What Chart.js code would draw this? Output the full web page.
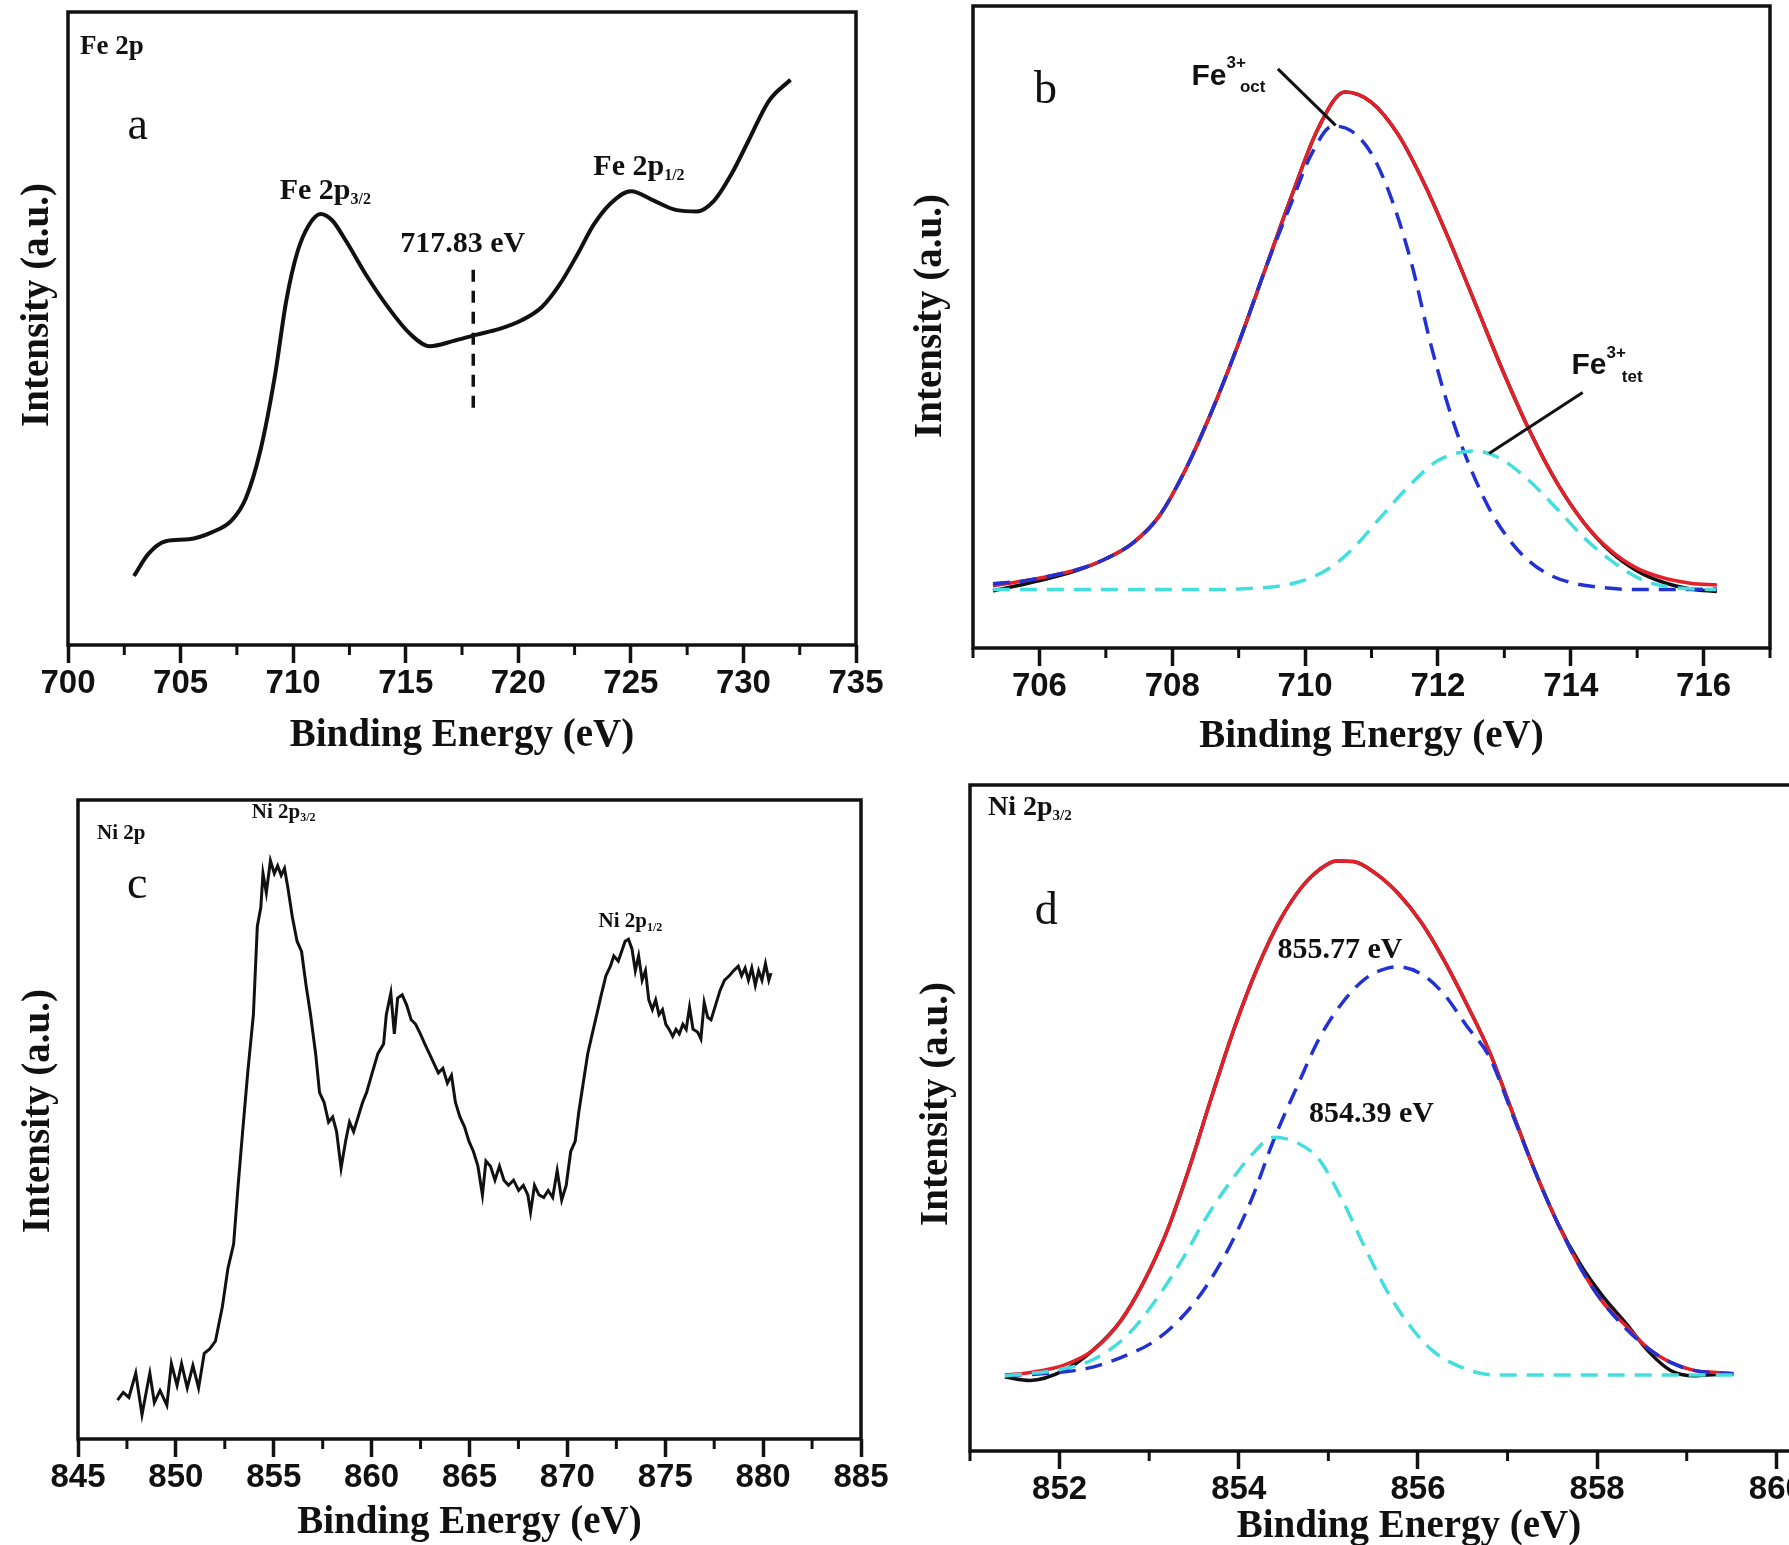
<!DOCTYPE html>
<html>
<head>
<meta charset="utf-8">
<script src="https://cdn.jsdelivr.net/npm/chart.js@4.4.1/dist/chart.umd.min.js"></script>
<style>
  html, body { margin: 0; padding: 0; background: #fff; overflow: hidden; width: 1789px; height: 1545px; }
  canvas { position: absolute; }
</style>
</head>
<body>
<canvas id="panelA" width="900" height="775" style="left:0px;top:0px"></canvas>
<canvas id="panelB" width="910" height="775" style="left:890px;top:0px"></canvas>
<canvas id="panelC" width="900" height="775" style="left:0px;top:780px"></canvas>
<canvas id="panelD" width="990" height="775" style="left:890px;top:780px"></canvas>
<script>
// ---- (a) Fe 2p survey ----
const aX = [702.93, 703.57, 704.34, 705.36, 706.38, 707.27, 707.9, 708.55, 709.18, 709.7, 710.2, 710.71, 711.22, 711.73, 712.37, 713.27, 714.29, 715.18, 716.07, 717.09, 718.11, 719.13, 720.15, 721.05, 721.81, 722.58, 723.35, 724.11, 725.0, 726.02, 727.04, 727.94, 728.7, 729.47, 730.23, 731.12, 732.09];
const aY = [0.109, 0.144, 0.164, 0.167, 0.178, 0.197, 0.232, 0.308, 0.423, 0.545, 0.622, 0.664, 0.681, 0.671, 0.637, 0.583, 0.530, 0.492, 0.472, 0.480, 0.490, 0.499, 0.513, 0.534, 0.568, 0.614, 0.664, 0.698, 0.717, 0.702, 0.687, 0.685, 0.702, 0.744, 0.797, 0.859, 0.893];
const aSatX = [718.0, 718.0];
const aSatY = [0.375, 0.60];
const aTicks = [700, 705, 710, 715, 720, 725, 730, 735];
const aMinor = [702.5, 707.5, 712.5, 717.5, 722.5, 727.5, 732.5];

// ---- (b) Fe 2p3/2 fit ----
const bX = [705.3, 705.8, 706.2, 706.6, 707.0, 707.4, 707.8, 708.2, 708.6, 709.0, 709.4, 709.8, 710.2, 710.6, 711.0, 711.4, 711.8, 712.2, 712.6, 713.0, 713.4, 713.8, 714.2, 714.6, 715.0, 715.4, 715.8, 716.2];
const bFit = [0.097, 0.105, 0.113, 0.123, 0.139, 0.163, 0.205, 0.278, 0.37, 0.475, 0.59, 0.705, 0.81, 0.866, 0.85, 0.8, 0.722, 0.628, 0.527, 0.426, 0.334, 0.256, 0.195, 0.152, 0.124, 0.109, 0.101, 0.098];
const bRaw = [0.089, 0.100, 0.110, 0.122, 0.139, 0.163, 0.205, 0.278, 0.37, 0.475, 0.59, 0.705, 0.81, 0.866, 0.85, 0.8, 0.722, 0.628, 0.527, 0.426, 0.334, 0.256, 0.195, 0.150, 0.120, 0.102, 0.092, 0.088];
const bOctX = [705.3, 705.8, 706.2, 706.6, 707.0, 707.4, 707.8, 708.2, 708.6, 709.0, 709.4, 709.8, 710.1, 710.42, 710.7, 711.0, 711.3, 711.6, 711.9, 712.2, 712.5, 712.8, 713.1, 713.4, 713.7, 714.0, 714.4, 715.0, 715.6, 716.2];
const bOctY = [0.1, 0.105, 0.113, 0.123, 0.139, 0.163, 0.205, 0.278, 0.37, 0.475, 0.59, 0.695, 0.77, 0.813, 0.805, 0.77, 0.7, 0.6, 0.47, 0.362, 0.278, 0.212, 0.165, 0.133, 0.113, 0.102, 0.095, 0.091, 0.091, 0.092];
const bTetX = [705.3, 706.5, 707.5, 708.5, 709.0, 709.87, 710.38, 710.72, 711.15, 711.58, 712.0, 712.56, 712.94, 713.37, 713.8, 714.22, 714.65, 715.08, 715.5, 716.19];
const bTetY = [0.091, 0.091, 0.091, 0.091, 0.092, 0.102, 0.125, 0.155, 0.205, 0.254, 0.292, 0.307, 0.295, 0.261, 0.216, 0.17, 0.133, 0.106, 0.095, 0.091];
const bTicks = [706, 708, 710, 712, 714, 716];
const bMinor = [705, 707, 709, 711, 713, 715, 717];

// ---- (c) Ni 2p survey ----
const cX = [847.02, 847.31, 847.6, 847.95, 848.27, 848.55, 848.67, 848.9, 849.19, 849.54,
  849.77, 850.06, 850.29, 850.58, 850.87, 851.16, 851.45, 851.73, 852.02, 852.37,
  852.66, 852.95, 853.18, 853.41, 853.67, 853.96, 854.16, 854.34, 854.45, 854.62,
  854.83, 855.03, 855.2, 855.38, 855.55, 855.72, 855.95, 856.19, 856.42, 856.65,
  856.88, 857.14, 857.34, 857.57, 857.8, 858.01, 858.21, 858.44, 858.67, 858.87,
  859.08, 859.31, 859.54, 859.74, 860.03, 860.32, 860.61, 860.75, 860.98, 861.16,
  861.33, 861.56, 861.79, 862.02, 862.25, 862.49, 862.72, 862.95, 863.18, 863.41,
  863.64, 863.87, 864.08, 864.28, 864.51, 864.74, 864.97, 865.2, 865.43, 865.66,
  865.84, 866.07, 866.3, 866.53, 866.76, 866.99, 867.25, 867.51, 867.75, 867.98,
  868.12, 868.32, 868.55, 868.79, 869.02, 869.25, 869.48, 869.71, 869.94, 870.17,
  870.4, 870.58, 870.81, 871.04, 871.27, 871.5, 871.73, 871.97, 872.2, 872.37,
  872.6, 872.77, 872.95, 873.12, 873.3, 873.47, 873.64, 873.82, 873.99, 874.16,
  874.34, 874.51, 874.68, 874.86, 875.03, 875.2, 875.38, 875.55, 875.72, 875.9,
  876.07, 876.24, 876.42, 876.65, 876.82, 876.99, 877.17, 877.34, 877.57, 877.8,
  878.03, 878.27, 878.5, 878.73, 878.9, 879.08, 879.25, 879.42, 879.6, 879.77,
  879.94, 880.12, 880.29, 880.4];
const cY = [0.061, 0.073, 0.065, 0.103, 0.038, 0.084, 0.103, 0.057, 0.076, 0.053,
  0.118, 0.084, 0.118, 0.08, 0.115, 0.08, 0.134, 0.141, 0.153, 0.206,
  0.267, 0.305, 0.397, 0.481, 0.573, 0.664, 0.802, 0.832, 0.885, 0.855,
  0.905, 0.885, 0.897, 0.882, 0.893, 0.863, 0.817, 0.779, 0.763, 0.71,
  0.664, 0.603, 0.542, 0.527, 0.496, 0.504, 0.481, 0.424, 0.466, 0.496,
  0.481, 0.504, 0.527, 0.542, 0.573, 0.603, 0.618, 0.664, 0.698, 0.634,
  0.69, 0.695, 0.679, 0.656, 0.649, 0.634, 0.618, 0.603, 0.588, 0.573,
  0.58, 0.557, 0.569, 0.527, 0.504, 0.489, 0.466, 0.45, 0.427, 0.382,
  0.435, 0.427, 0.405, 0.427, 0.405, 0.397, 0.405, 0.389, 0.397, 0.382,
  0.355, 0.397, 0.382, 0.378, 0.389, 0.378, 0.42, 0.374, 0.397, 0.45,
  0.466, 0.511, 0.557, 0.603, 0.634, 0.664, 0.695, 0.725, 0.74, 0.756,
  0.748, 0.763, 0.779, 0.782, 0.767, 0.733, 0.756, 0.718, 0.733, 0.687,
  0.672, 0.687, 0.664, 0.672, 0.649, 0.641, 0.63, 0.641, 0.634, 0.649,
  0.641, 0.676, 0.641, 0.637, 0.626, 0.683, 0.66, 0.656, 0.679, 0.702,
  0.718, 0.725, 0.733, 0.74, 0.725, 0.737, 0.718, 0.737, 0.71, 0.733,
  0.718, 0.744, 0.718, 0.729];
const cTicks = [845, 850, 855, 860, 865, 870, 875, 880, 885];
const cMinor = [847.5, 852.5, 857.5, 862.5, 867.5, 872.5, 877.5, 882.5];

// ---- (d) Ni 2p3/2 fit ----
const dX = [851.39, 851.67, 852.05, 852.37, 852.68, 852.94, 853.19, 853.44, 853.7, 853.95, 854.2, 854.46, 854.71, 854.9, 855.09, 855.28, 855.53, 855.78, 856.04, 856.29, 856.54, 856.8, 857.05, 857.3, 857.56, 857.81, 858.06, 858.32, 858.57, 858.82, 859.08, 859.33, 859.52];
const dFit = [0.114, 0.118, 0.129, 0.151, 0.195, 0.254, 0.327, 0.422, 0.533, 0.635, 0.723, 0.797, 0.848, 0.873, 0.886, 0.885, 0.867, 0.837, 0.793, 0.737, 0.672, 0.599, 0.51, 0.422, 0.342, 0.276, 0.224, 0.188, 0.154, 0.133, 0.121, 0.118, 0.116];
const dRaw = [0.111, 0.106, 0.121, 0.151, 0.195, 0.254, 0.327, 0.422, 0.533, 0.635, 0.723, 0.797, 0.848, 0.873, 0.886, 0.885, 0.867, 0.837, 0.793, 0.737, 0.672, 0.599, 0.51, 0.422, 0.342, 0.281, 0.233, 0.192, 0.15, 0.121, 0.113, 0.115, 0.116];
const dHighX = [851.39, 851.99, 852.37, 852.75, 853.06, 853.38, 853.63, 853.89, 854.14, 854.39, 854.65, 854.9, 855.15, 855.41, 855.66, 855.78, 856.04, 856.29, 856.54, 856.8, 857.05, 857.3, 857.56, 857.81, 858.06, 858.32, 858.57, 858.82, 859.08, 859.52];
const dHighY = [0.113, 0.118, 0.126, 0.144, 0.165, 0.203, 0.246, 0.305, 0.377, 0.467, 0.547, 0.62, 0.672, 0.709, 0.725, 0.727, 0.716, 0.686, 0.639, 0.591, 0.507, 0.422, 0.342, 0.276, 0.224, 0.184, 0.154, 0.133, 0.121, 0.116];
const dLowX = [851.39, 851.99, 852.37, 852.75, 853.06, 853.38, 853.63, 853.89, 854.14, 854.39, 854.65, 854.9, 855.15, 855.41, 855.66, 855.91, 856.16, 856.48, 856.86, 857.5, 858.5, 859.52];
const dLowY = [0.113, 0.122, 0.137, 0.173, 0.224, 0.29, 0.349, 0.401, 0.444, 0.471, 0.463, 0.437, 0.378, 0.305, 0.239, 0.188, 0.151, 0.126, 0.114, 0.114, 0.114, 0.114];
const dTicks = [852, 854, 856, 858, 860];
const dMinor = [851, 853, 855, 857, 859];

const INK = '#111111';
const RED = '#e4202a';
const BLUE = '#2232d2';
const CYAN = '#44dede';
const SERIF = "'Liberation Serif', 'Times New Roman', serif";
const SANS = "'Liberation Sans', Arial, sans-serif";

const pts = (xs, ys) => xs.map((x, i) => ({x: x, y: ys[i]}));

function drawRich(ctx, px, py, lab) {
  let w = 0;
  lab.parts.forEach(p => { ctx.font = p[1]; w += ctx.measureText(p[0]).width + (p[3] || 0); });
  let cx = lab.align === 'left' ? px : px - w / 2;
  ctx.fillStyle = INK;
  ctx.textBaseline = 'middle';
  ctx.textAlign = 'left';
  lab.parts.forEach(p => {
    ctx.font = p[1];
    cx += (p[3] || 0);
    ctx.fillText(p[0], cx, py + (p[2] || 0));
    cx += ctx.measureText(p[0]).width;
  });
}

const decor = {
  id: 'decor',
  afterDraw(chart, args, opts) {
    const {ctx, chartArea: ca, scales: {x, y}} = chart;
    ctx.save();
    ctx.strokeStyle = INK;
    ctx.lineWidth = 3.5;
    ctx.strokeRect(ca.left, ca.top, ca.right - ca.left, ca.bottom - ca.top);
    ctx.lineWidth = 3;
    (opts.minor || []).forEach(v => {
      const px = x.getPixelForValue(v);
      ctx.beginPath();
      ctx.moveTo(px, ca.bottom);
      ctx.lineTo(px, ca.bottom + 10);
      ctx.stroke();
    });
    (opts.lines || []).forEach(l => {
      ctx.beginPath();
      ctx.moveTo(x.getPixelForValue(l[0]), y.getPixelForValue(l[1]));
      ctx.lineTo(x.getPixelForValue(l[2]), y.getPixelForValue(l[3]));
      ctx.stroke();
    });
    (opts.labels || []).forEach(l => drawRich(ctx, x.getPixelForValue(l.x), y.getPixelForValue(l.y), l));
    // y title, rotated
    if (opts.yTitle) {
      ctx.translate(opts.yTitle[0], opts.yTitle[1]);
      ctx.rotate(-Math.PI / 2);
      ctx.font = 'bold 39px ' + SERIF;
      ctx.fillStyle = INK;
      ctx.textAlign = 'center';
      ctx.textBaseline = 'middle';
      ctx.fillText('Intensity (a.u.)', 0, 0);
    }
    ctx.restore();
  }
};

function makePanel(id, p) {
  const half = 39 * 1.2 / 2;
  const cv = document.getElementById(id);
  const cx = parseFloat(cv.style.left), cy = parseFloat(cv.style.top);
  const padL = p.yTitleX - half - cx;
  const padB = cy + cv.height - (p.xTitleY + half);
  new Chart(cv.getContext('2d'), {
    type: 'line',
    data: {datasets: p.datasets},
    options: {
      responsive: false,
      animation: false,
      layout: {padding: {left: padL, top: p.box[1] - cy, right: cx + cv.width - p.box[2], bottom: padB}},
      plugins: {
        legend: {display: false}, tooltip: {enabled: false},
        decor: {minor: p.minor, labels: p.labels, lines: p.lines, yTitle: [p.yTitleX - cx, p.yTitleY - cy]}
      },
      elements: {point: {radius: 0}},
      scales: {
        x: {
          type: 'linear', min: p.min, max: p.max,
          afterBuildTicks: s => { s.ticks = p.ticks.map(v => ({value: v})); },
          afterFit: s => { s.height = p.xTitleY + half - p.box[3]; },
          ticks: {color: INK, padding: 1, autoSkip: false, maxRotation: 0, callback: v => String(v),
            font: {family: SANS, weight: 'bold', size: 33, lineHeight: 1.2}},
          grid: {display: true, drawOnChartArea: false, drawTicks: true, tickLength: 18, tickWidth: 3.5, tickColor: INK},
          border: {display: false},
          title: {display: true, text: 'Binding Energy (eV)', color: INK, padding: 0,
            font: {family: SERIF, weight: 'bold', size: 39, lineHeight: 1.2}}
        },
        y: {
          min: 0, max: 1,
          afterFit: s => { s.width = p.box[0] - (p.yTitleX - half); },
          ticks: {display: false},
          grid: {display: false},
          border: {display: false},
          title: {display: false}
        }
      }
    },
    plugins: [decor]
  });
}

const solid = (data, color, w) => ({data: data, borderColor: color, borderWidth: w, cubicInterpolationMode: 'monotone', fill: false});
const dashed = (data, color) => ({data: data, borderColor: color, borderWidth: 3.5, borderDash: [17, 10], cubicInterpolationMode: 'monotone', fill: false});

const big = 'bold 30px ' + SERIF;
const small = 'bold 16px ' + SERIF;
const letter = '46px ' + SERIF;

makePanel('panelA', {
  box: [68, 12, 856, 645], yTitleX: 38, yTitleY: 305, xTitleY: 736,
  min: 700, max: 735, ticks: aTicks, minor: aMinor,
  datasets: [
    {data: pts(aSatX, aSatY), borderColor: INK, borderWidth: 3.5, borderDash: [12, 9], fill: false},
    {data: pts(aX, aY), borderColor: INK, borderWidth: 4, cubicInterpolationMode: 'monotone', fill: false}
  ],
  labels: [
    {x: 700.53, y: 0.945, align: 'left', parts: [['Fe 2p', 'bold 27px ' + SERIF]]},
    {x: 703.1, y: 0.818, parts: [['a', letter]]},
    {x: 711.43, y: 0.717, parts: [['Fe 2p', big], ['3/2', small, 9]]},
    {x: 717.53, y: 0.633, parts: [['717.83 eV', big]]},
    {x: 725.36, y: 0.755, parts: [['Fe 2p', big], ['1/2', small, 9]]}
  ]
});

makePanel('panelB', {
  box: [973, 6, 1770, 648], yTitleX: 931, yTitleY: 316, xTitleY: 737,
  min: 705, max: 717, ticks: bTicks, minor: bMinor,
  datasets: [
    dashed(pts(bTetX, bTetY), CYAN),
    dashed(pts(bOctX, bOctY), BLUE),
    solid(pts(bX, bFit), RED, 3.5),
    solid(pts(bX, bRaw), INK, 3.5)
  ],
  lines: [[709.59, 0.902, 710.46, 0.814], [714.18, 0.398, 712.77, 0.303]],
  labels: [
    {x: 706.09, y: 0.867, parts: [['b', letter]]},
    {x: 708.29, y: 0.89, align: 'left', parts: [['Fe', 'bold 30px ' + SANS], ['3+', 'bold 17px ' + SANS, -13], ['oct', 'bold 17px ' + SANS, 11, -6]]},
    {x: 714.01, y: 0.439, align: 'left', parts: [['Fe', 'bold 30px ' + SANS], ['3+', 'bold 17px ' + SANS, -13], ['tet', 'bold 17px ' + SANS, 11, -4]]}
  ]
});

makePanel('panelC', {
  box: [78, 800, 861, 1439], yTitleX: 39, yTitleY: 1111, xTitleY: 1523,
  min: 845, max: 885, ticks: cTicks, minor: cMinor,
  datasets: [
    {data: pts(cX, cY), borderColor: INK, borderWidth: 3, tension: 0, fill: false}
  ],
  labels: [
    {x: 845.97, y: 0.948, align: 'left', parts: [['Ni 2p', 'bold 21px ' + SERIF]]},
    {x: 855.51, y: 0.981, parts: [['Ni 2p', 'bold 21px ' + SERIF], ['3/2', 'bold 12px ' + SERIF, 6]]},
    {x: 848.03, y: 0.866, parts: [['c', letter]]},
    {x: 873.22, y: 0.809, parts: [['Ni 2p', 'bold 21px ' + SERIF], ['1/2', 'bold 12px ' + SERIF, 6]]}
  ]
});

makePanel('panelD', {
  box: [970, 785, 1848, 1451], yTitleX: 937, yTitleY: 1104, xTitleY: 1527,
  min: 851, max: 860.8, ticks: dTicks, minor: dMinor,
  datasets: [
    dashed(pts(dLowX, dLowY), CYAN),
    dashed(pts(dHighX, dHighY), BLUE),
    solid(pts(dX, dFit), RED, 3.5),
    solid(pts(dX, dRaw), INK, 3.5)
  ],
  labels: [
    {x: 851.2, y: 0.966, align: 'left', parts: [['Ni 2p', 'bold 28px ' + SERIF], ['3/2', 'bold 15px ' + SERIF, 8]]},
    {x: 851.85, y: 0.81, parts: [['d', letter]]},
    {x: 855.13, y: 0.752, parts: [['855.77 eV', big]]},
    {x: 855.48, y: 0.506, parts: [['854.39 eV', big]]}
  ]
});
</script>
</body>
</html>
